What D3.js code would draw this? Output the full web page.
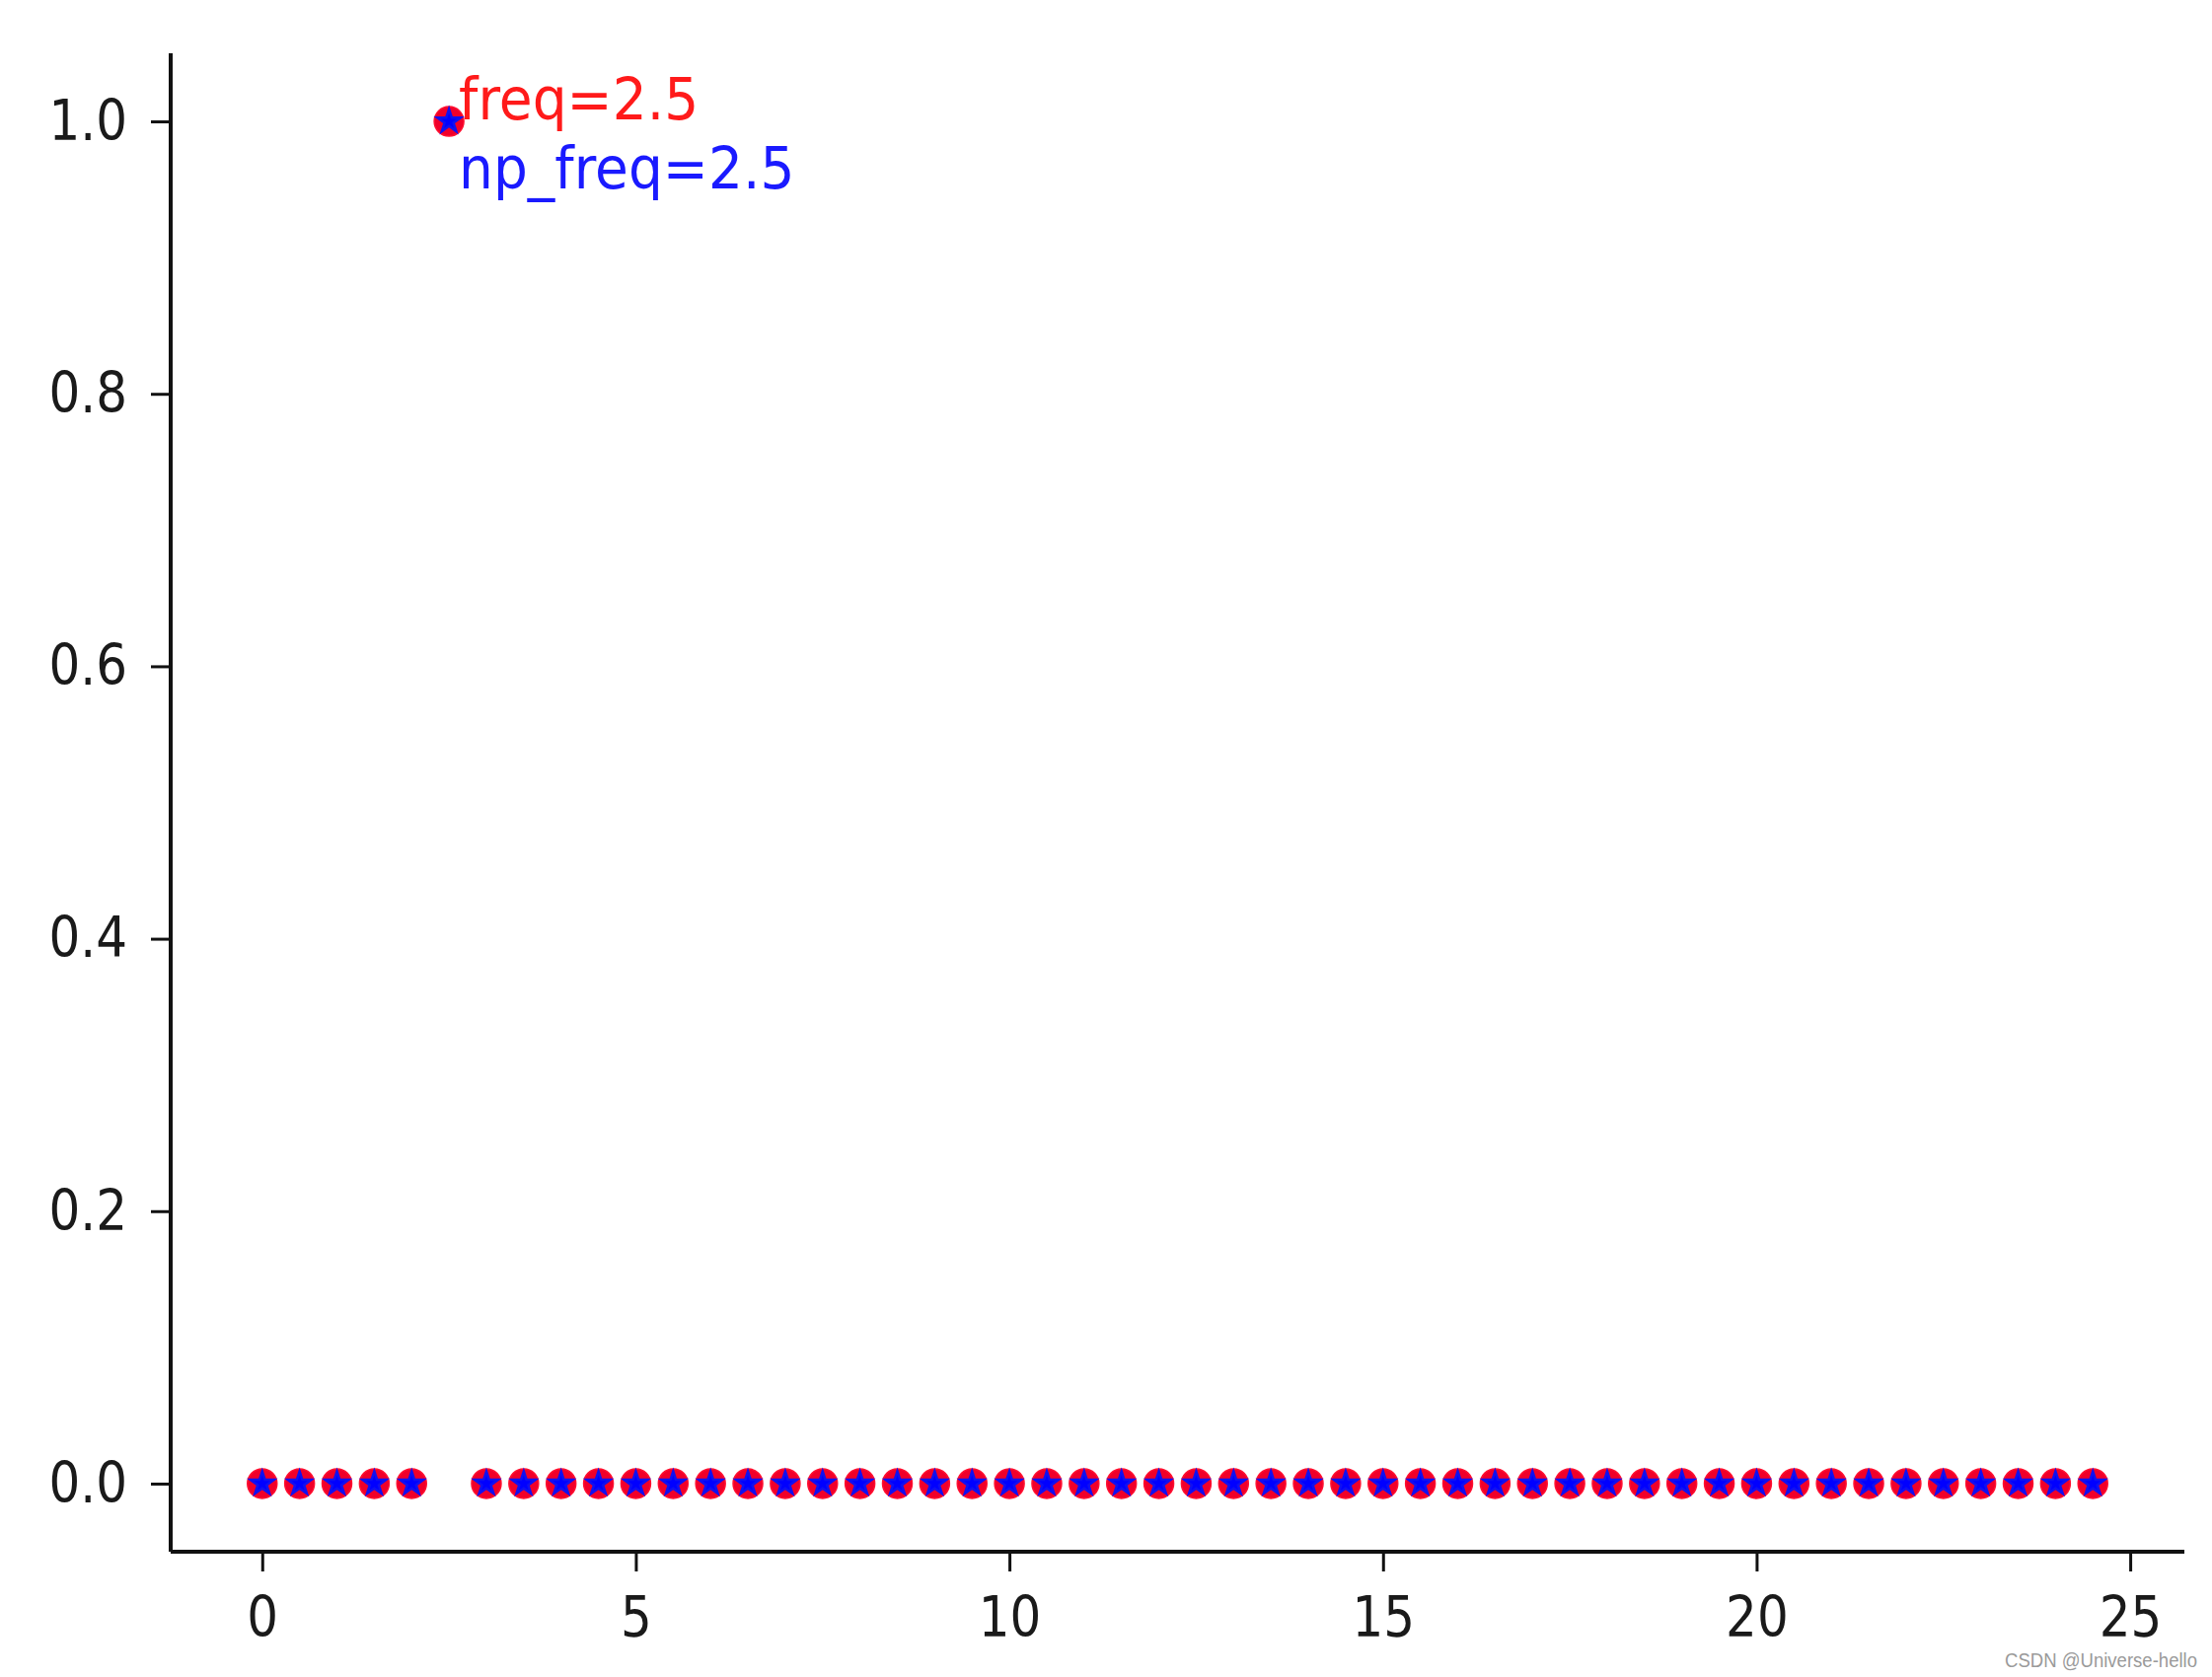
<!DOCTYPE html>
<html>
<head>
<meta charset="utf-8">
<script src="https://cdn.jsdelivr.net/npm/d3@7"></script>
<style>
  html, body { margin: 0; padding: 0; background: #fff; }
  svg { display: block; }
</style>
</head>
<body>
<svg id="chart" width="2242" height="1700"></svg>
<script>
// ---- data ----
const xValues = [0, 0.5, 1, 1.5, 2, 2.5, 3, 3.5, 4, 4.5, 5, 5.5, 6, 6.5, 7, 7.5, 8, 8.5, 9, 9.5,
  10, 10.5, 11, 11.5, 12, 12.5, 13, 13.5, 14, 14.5, 15, 15.5, 16, 16.5, 17, 17.5, 18, 18.5, 19, 19.5,
  20, 20.5, 21, 21.5, 22, 22.5, 23, 23.5, 24, 24.5];
const freqValues = [0, 0, 0, 0, 0, 1, 0, 0, 0, 0, 0, 0, 0, 0, 0, 0, 0, 0, 0, 0,
  0, 0, 0, 0, 0, 0, 0, 0, 0, 0, 0, 0, 0, 0, 0, 0, 0, 0, 0, 0,
  0, 0, 0, 0, 0, 0, 0, 0, 0, 0];
const npFreqValues = [0, 0, 0, 0, 0, 1, 0, 0, 0, 0, 0, 0, 0, 0, 0, 0, 0, 0, 0, 0,
  0, 0, 0, 0, 0, 0, 0, 0, 0, 0, 0, 0, 0, 0, 0, 0, 0, 0, 0, 0,
  0, 0, 0, 0, 0, 0, 0, 0, 0, 0];
const xTicks = [0, 5, 10, 15, 20, 25];
const yTicks = [0.0, 0.2, 0.4, 0.6, 0.8, 1.0];
const annotations = [
  { x: 2.5, y: 1.0, text: "freq=2.5", color: "#ff1a1a" },
  { x: 2.5, y: 1.0, text: "np_freq=2.5", color: "#1a1aff" }
];
const watermark = "CSDN @Universe-hello";

// ---- layout ----
const svg = d3.select("#chart");
const mLeft = 173, mRight = 2214, mTop = 54, mBottom = 1573;
const stretch = 1.15; // reference text is slightly taller than wide

const x = d3.scaleLinear().domain([-1.225, 25.725]).range([mLeft, mRight]);
const y = d3.scaleLinear().domain([-0.05, 1.05]).range([mBottom, mTop]);

const tickFont = "'DejaVu Sans', sans-serif";

// y axis
const yAxis = svg.append("g")
  .attr("transform", `translate(${mLeft},0)`)
  .call(d3.axisLeft(y).tickValues(yTicks).tickFormat(d3.format(".1f")).tickSize(20).tickPadding(24));
// x axis
const xAxis = svg.append("g")
  .attr("transform", `translate(0,${mBottom})`)
  .call(d3.axisBottom(x).tickValues(xTicks).tickFormat(d3.format("d")).tickSize(20).tickPadding(19));

[yAxis, xAxis].forEach(g => {
  g.select(".domain").attr("stroke", "#111").attr("stroke-width", 4);
  g.selectAll(".tick line").attr("stroke", "#111").attr("stroke-width", 3);
  g.selectAll(".tick text")
    .attr("fill", "#1a1a1a")
    .attr("transform", `scale(1,${stretch})`)
    .style("font-family", tickFont)
    .style("font-size", "50px");
});
// spines without end caps, like matplotlib
yAxis.select(".domain").attr("d", `M0,${mBottom}V${mTop}`);
xAxis.select(".domain").attr("d", `M${mLeft},0H${mRight}`);

// ---- markers ----
const pts = xValues.map((d, i) => ({ x: d, f: freqValues[i], n: npFreqValues[i] }));

svg.append("g").selectAll("circle")
  .data(pts)
  .join("circle")
  .attr("cx", d => x(d.x))
  .attr("cy", d => y(d.f))
  .attr("r", 15)
  .attr("fill", "#f0002a")
  .attr("stroke", "#ff1030")
  .attr("stroke-width", 1.5);

const star = d3.symbol().type(d3.symbolStar).size(175);
svg.append("g").selectAll("path")
  .data(pts)
  .join("path")
  .attr("transform", d => `translate(${x(d.x)},${y(d.n)})`)
  .attr("d", star)
  .attr("fill", "#0000ff")
  .attr("stroke", "#1010f0")
  .attr("stroke-width", 2.5);

// ---- annotations ----
const annOffsets = [[10, -2], [10, 68]];
svg.append("g").selectAll("text")
  .data(annotations)
  .join("text")
  .attr("transform", (d, i) =>
    `translate(${x(d.x) + annOffsets[i][0]},${y(d.y) + annOffsets[i][1]}) scale(1,1.08)`)
  .attr("fill", d => d.color)
  .style("font-family", tickFont)
  .style("font-size", "55px")
  .text(d => d.text);

// ---- watermark ----
svg.append("text")
  .attr("x", 2227)
  .attr("y", 1690)
  .attr("text-anchor", "end")
  .attr("fill", "#9a9a9a")
  .style("font-family", "'Liberation Sans', Arial, sans-serif")
  .style("font-size", "20px")
  .attr("textLength", 195)
  .attr("lengthAdjust", "spacingAndGlyphs")
  .text(watermark);
</script>
</body>
</html>
